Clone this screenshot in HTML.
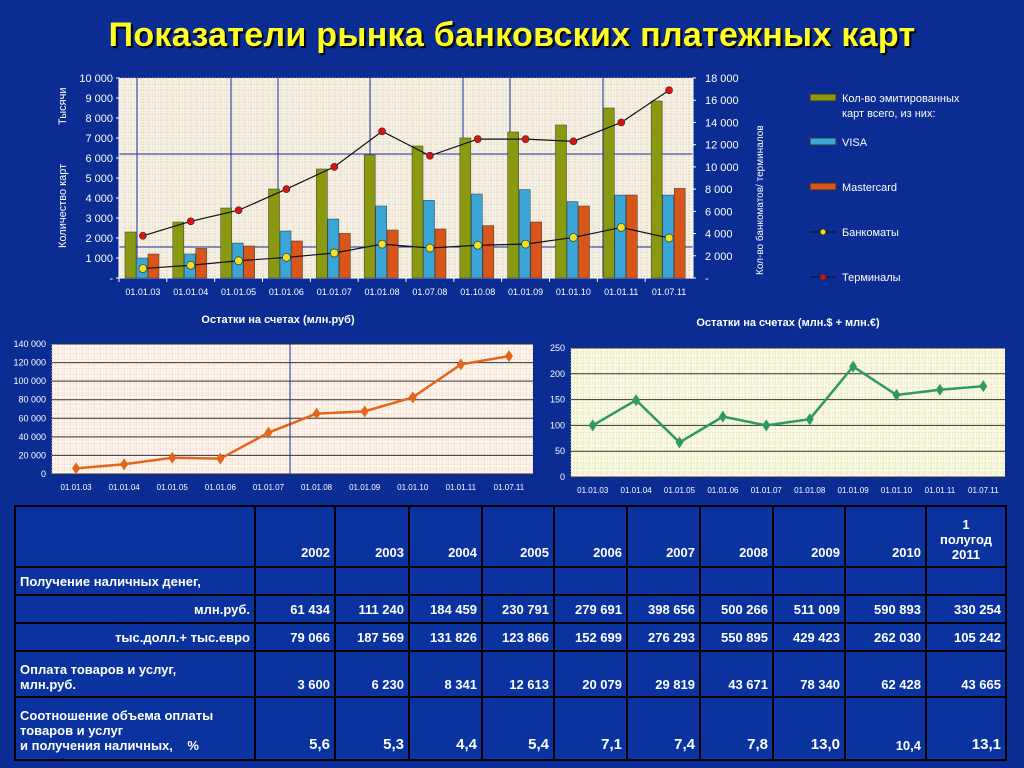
<!DOCTYPE html>
<html><head><meta charset="utf-8"><style>
body{margin:0;width:1024px;height:768px;background:#0b2c93;overflow:hidden;font-family:"Liberation Sans",sans-serif;position:relative}
#title{position:absolute;left:0;width:1024px;top:16px;text-align:center;font-size:34px;font-weight:bold;color:#ffff22;text-shadow:2px 2px 1px #000;letter-spacing:0.3px}
svg{position:absolute;left:0;top:0}
table{position:absolute;left:14px;top:505px;width:991px;table-layout:fixed;border-collapse:collapse;color:#fff;font-weight:bold;font-size:13px;background:#0a33a0}
td{border:2px solid #000;padding:0 4px;text-align:right;vertical-align:bottom;white-space:nowrap;overflow:hidden}
td.m{vertical-align:middle}
</style></head><body>
<div id="title">Показатели рынка банковских платежных карт</div>
<svg id="s" width="1024" height="768"></svg>
<table>
<colgroup><col style="width:240px"><col style="width:80px"><col style="width:74px"><col style="width:73px"><col style="width:72px"><col style="width:73px"><col style="width:73px"><col style="width:73px"><col style="width:72px"><col style="width:81px"><col style="width:80px"></colgroup>
<tr style="height:61px"><td></td><td style="padding-bottom:6px">2002</td><td style="padding-bottom:6px">2003</td><td style="padding-bottom:6px">2004</td><td style="padding-bottom:6px">2005</td><td style="padding-bottom:6px">2006</td><td style="padding-bottom:6px">2007</td><td style="padding-bottom:6px">2008</td><td style="padding-bottom:6px">2009</td><td style="padding-bottom:6px">2010</td><td style="text-align:center;padding-bottom:4px">1<br>полугод<br>2011</td></tr>
<tr style="height:28px"><td class="m" style="text-align:left">Получение наличных денег,</td><td></td><td></td><td></td><td></td><td></td><td></td><td></td><td></td><td></td><td></td></tr>
<tr style="height:28px"><td class="m">млн.руб.</td><td class="m">61 434</td><td class="m">111 240</td><td class="m">184 459</td><td class="m">230 791</td><td class="m">279 691</td><td class="m">398 656</td><td class="m">500 266</td><td class="m">511 009</td><td class="m">590 893</td><td class="m">330 254</td></tr>
<tr style="height:28px"><td class="m">тыс.долл.+ тыс.евро</td><td class="m">79 066</td><td class="m">187 569</td><td class="m">131 826</td><td class="m">123 866</td><td class="m">152 699</td><td class="m">276 293</td><td class="m">550 895</td><td class="m">429 423</td><td class="m">262 030</td><td class="m">105 242</td></tr>
<tr style="height:46px"><td style="text-align:left;padding-bottom:4px">Оплата товаров и услуг,<br>млн.руб.</td><td style="padding-bottom:4px">3 600</td><td style="padding-bottom:4px">6 230</td><td style="padding-bottom:4px">8 341</td><td style="padding-bottom:4px">12 613</td><td style="padding-bottom:4px">20 079</td><td style="padding-bottom:4px">29 819</td><td style="padding-bottom:4px">43 671</td><td style="padding-bottom:4px">78 340</td><td style="padding-bottom:4px">62 428</td><td style="padding-bottom:4px">43 665</td></tr>
<tr style="height:63px;font-size:15px"><td style="text-align:left;font-size:13px;padding-bottom:6px">Соотношение объема оплаты<br>товаров и услуг<br>и получения наличных,&nbsp;&nbsp;&nbsp; %</td><td style="padding-bottom:6px">5,6</td><td style="padding-bottom:6px">5,3</td><td style="padding-bottom:6px">4,4</td><td style="padding-bottom:6px">5,4</td><td style="padding-bottom:6px">7,1</td><td style="padding-bottom:6px">7,4</td><td style="padding-bottom:6px">7,8</td><td style="padding-bottom:6px">13,0</td><td style="padding-bottom:6px;font-size:13px">10,4</td><td style="padding-bottom:6px">13,1</td></tr>
</table>
<script>
const cats=["01.01.03","01.01.04","01.01.05","01.01.06","01.01.07","01.01.08","01.07.08","01.10.08","01.01.09","01.01.10","01.01.11","01.07.11"];
const issued=[2300,2800,3500,4450,5450,6150,6600,7000,7300,7650,8500,8850];
const visa=[1000,1200,1750,2350,2950,3600,3880,4200,4420,3820,4150,4150];
const master=[1200,1480,1600,1850,2230,2400,2450,2620,2800,3600,4150,4480];
const atms=[850,1150,1550,1850,2250,3050,2700,2950,3050,3650,4550,3600];
const terms=[3800,5100,6100,8000,10000,13200,11000,12500,12500,12300,14000,16900];
const leftTicks=["-","1 000","2 000","3 000","4 000","5 000","6 000","7 000","8 000","9 000","10 000"];
const rightTicks=["-","2 000","4 000","6 000","8 000","10 000","12 000","14 000","16 000","18 000"];
const cats2=["01.01.03","01.01.04","01.01.05","01.01.06","01.01.07","01.01.08","01.01.09","01.01.10","01.01.11","01.07.11"];
const rub=[6000,10500,17500,16500,44500,65000,67500,82500,118000,127000];
const rubTicks=[0,20000,40000,60000,80000,100000,120000,140000];
const cats3=["01.01.03","01.01.04","01.01.05","01.01.06","01.01.07","01.01.08","01.01.09","01.01.10","01.01.11","01.07.11"];
const fx=[100,149,67,117,100,112,214,159,169,176];
const fxTicks=[0,50,100,150,200,250];
const s=document.getElementById('s');const NS="http://www.w3.org/2000/svg";
function el(t,a,txt){const e=document.createElementNS(NS,t);for(const k in a)e.setAttribute(k,a[k]);if(txt!==undefined)e.textContent=txt;s.appendChild(e);return e;}
function fmt(v){return String(v).replace(/\B(?=(\d{3})+(?!\d))/g,' ');}
const L=119,R=693,T=78,B=278;const bw=(R-L)/cats.length;
const yl=v=>B-(v/10000)*(B-T),yr=v=>B-(v/18000)*(B-T);
let e=el('rect',{x:L,y:T,width:R-L,height:B-T,fill:'#f4efe2'});
for(let x=L;x<R;x+=6)el('line',{x1:x,y1:T,x2:x,y2:B,stroke:'#d8cdb0','stroke-dasharray':'1,2','stroke-width':1});
for(let y=T;y<B;y+=6)el('line',{x1:L,y1:y,x2:R,y2:y,stroke:'#d8cdb0','stroke-dasharray':'1,2','stroke-width':1});
[137,231,278,370,463,510,603].forEach(x=>el('line',{x1:x,y1:T,x2:x,y2:B,stroke:'#1a2f9a','stroke-width':1}));
[1550,6200].forEach(v=>el('line',{x1:L,y1:yl(v),x2:R,y2:yl(v),stroke:'#1a2f9a','stroke-width':1}));
leftTicks.forEach((t,i)=>{el('text',{x:L-6,y:yl(i*1000)+4,'text-anchor':'end','font-size':11,fill:'#fff'},t);el('line',{x1:L-3,y1:yl(i*1000),x2:L,y2:yl(i*1000),stroke:'#fff'});});
rightTicks.forEach((t,i)=>{el('text',{x:R+12,y:yr(i*2000)+4,'font-size':11,fill:'#fff'},t);el('line',{x1:R,y1:yr(i*2000),x2:R+3,y2:yr(i*2000),stroke:'#fff'});});
el('line',{x1:L,y1:T,x2:L,y2:B,stroke:'#fff'});el('line',{x1:R,y1:T,x2:R,y2:B,stroke:'#fff'});el('line',{x1:L,y1:B,x2:R,y2:B,stroke:'#fff'});
cats.forEach((c,i)=>{const x0=L+bw*i;
 [[issued,'#8a9a10','bar-issued'],[visa,'#3aa6d8','bar-visa'],[master,'#d8561a','bar-mastercard']].forEach((sr,j)=>{const r=el('rect',{x:x0+6+j*11.5,y:yl(sr[0][i]),width:11,height:B-yl(sr[0][i]),fill:sr[1],stroke:'#333','stroke-width':0.5});});
 el('text',{x:x0+bw/2,y:B+17,'text-anchor':'middle','font-size':9,fill:'#fff'},c);
 el('line',{x1:x0,y1:B,x2:x0,y2:B+4,stroke:'#fff'});
});
function line(data,y,col,r,name,cx){const p=el('polyline',{points:data.map((v,i)=>(cx(i))+','+y(v)).join(' '),fill:'none',stroke:'#111','stroke-width':1.2});
 data.forEach((v,i)=>{const c=el('circle',{cx:cx(i),cy:y(v),r:r,fill:col,stroke:'#333','stroke-width':0.7});});}
line(terms,yr,'#e01010',3.5,'terminals',i=>L+bw*i+bw/2);
line(atms,yr,'#f4e020',4,'atms',i=>L+bw*i+bw/2);
el('text',{x:0,y:0,'font-size':11,fill:'#fff',transform:'translate(66,248) rotate(-90)'},'Количество карт');
el('text',{x:0,y:0,'font-size':11,fill:'#fff',transform:'translate(66,125) rotate(-90)'},'Тысячи');
el('text',{x:0,y:0,'font-size':10,fill:'#fff',transform:'translate(763,275) rotate(-90)'},'Кол-во банкоматов/ терминалов');
const lg=[['rect','#8a9a10',98,['Кол-во эмитированных','карт всего, из них:']],['rect','#3aa6d8',142,['VISA']],['rect','#d8561a',187,['Mastercard']],['dot','#f4e020',232,['Банкоматы']],['dot','#e01010',277,['Терминалы']]];
lg.forEach(g=>{if(g[0]=='rect')el('rect',{x:810,y:g[2]-4,width:26,height:7,fill:g[1],stroke:'#333'});else{el('line',{x1:810,y1:g[2],x2:836,y2:g[2],stroke:'#111'});el('circle',{cx:823,cy:g[2],r:3,fill:g[1],stroke:'#333'});}
 g[3].forEach((t,k)=>el('text',{x:842,y:g[2]+4+k*15,'font-size':11,fill:'#fff'},t));});
el('text',{x:278,y:323,'text-anchor':'middle','font-size':11,'font-weight':'bold',fill:'#fff'},'Остатки на счетах (млн.руб)');
el('text',{x:788,y:326,'text-anchor':'middle','font-size':11,'font-weight':'bold',fill:'#fff'},'Остатки на счетах (млн.$ + млн.€)');
function small(x0,x1,t0,b0,max,ticks,cs,data,bg,grid,col,name){
 const y=v=>b0-(v/max)*(b0-t0);const w=(x1-x0)/cs.length;
 const r=el('rect',{x:x0,y:t0,width:x1-x0,height:b0-t0,fill:bg});
 for(let x=x0;x<x1;x+=6)el('line',{x1:x,y1:t0,x2:x,y2:b0,stroke:grid,'stroke-dasharray':'1,2'});
 for(let yy=t0;yy<b0;yy+=5)el('line',{x1:x0,y1:yy,x2:x1,y2:yy,stroke:grid,'stroke-dasharray':'1,2'});
 ticks.forEach(t=>{el('line',{x1:x0,y1:y(t),x2:x1,y2:y(t),stroke:'#333','stroke-width':1});el('text',{x:x0-6,y:y(t)+3,'text-anchor':'end','font-size':9,fill:'#fff'},fmt(t));});
 cs.forEach((c,i)=>el('text',{x:x0+w*i+w/2,y:b0+16,'text-anchor':'middle','font-size':8,fill:'#fff'},c));
 const p=el('polyline',{points:data.map((v,i)=>(x0+w*i+w/2)+','+y(v)).join(' '),fill:'none',stroke:col,'stroke-width':2.5});
 data.forEach((v,i)=>{const cx=x0+w*i+w/2,cy=y(v);const d=el('polygon',{points:`${cx},${cy-6} ${cx+4},${cy} ${cx},${cy+6} ${cx-4},${cy}`,fill:col});});
}
small(52,533,344,474,140000,rubTicks,cats2,rub,'#fbf3ec','#f0c8b0','#e4661a','rub-balance');
el('line',{x1:290,y1:344,x2:290,y2:474,stroke:'#1a2f9a'});
small(571,1005,348,477,250,fxTicks,cats3,fx,'#f8f8e4','#d8e090','#2e9a60','fx-balance');
</script>
</body></html>
